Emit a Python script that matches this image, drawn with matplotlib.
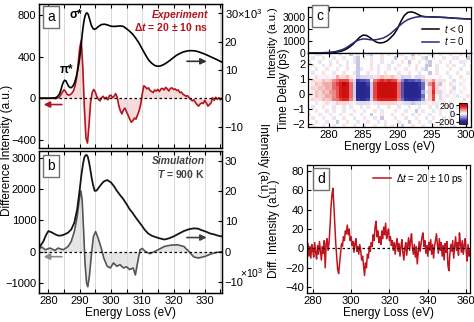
import numpy as np
import matplotlib
matplotlib.use('Agg')
import matplotlib.pyplot as plt
from matplotlib.colors import LinearSegmentedColormap

plt.rcParams['font.family'] = ['Liberation Sans', 'DejaVu Sans']
plt.rcParams['mathtext.fontset'] = 'custom'
plt.rcParams['mathtext.rm'] = 'Liberation Sans'
plt.rcParams['mathtext.it'] = 'Liberation Sans:italic'
plt.rcParams['mathtext.bf'] = 'Liberation Sans:bold'
plt.rcParams['mathtext.bfit'] = 'Liberation Sans:italic:bold'
plt.rcParams['axes.linewidth'] = 0.9

# ---- panel a: experiment (difference, left axis; intensity x1e3, right axis)
a_diff_y = [0, 2, -3, 1, 0, -2, 1, -1, 2, 0,
            -3, 1, 4, 12, 35, 60, 82, 65, 38, 30,
            35, 48, 70, 115, 190, 330, 480, 555, 300, -90,
            -380, -430, -250, -40, 55, 85, 60, 15, -10, -25,
            5, 20, -5, 10, -15, 25, 30, 5, 20, 45,
            10, -70, -120, -150, -110, -95, -130, -165, -200, -230,
            -215, -190, -200, -160, -120, -60, 40, 120, 110, 90,
            100, 75, 65, 55, 80, 70, 85, 65, 90, 95,
            80, 105, 90, 70, 95, 100, 85, 90, 75, 80,
            55, 60, 40, 30, 20, 25, 5, -10, -25, -15,
            -40, -60, -75, -55, -45, -50, -20, -45, -75, -60,
            -45, 5, -20, 10, -10, 5, -15, 0]
a_diff_x = np.linspace(277, 277 + 0.5 * (len(a_diff_y) - 1), len(a_diff_y))

a_int_x = [277, 279, 281, 282, 282.6, 283, 283.6, 284, 284.4, 284.8, 285.2, 285.6, 286, 286.4,
           286.8, 287.3, 287.8, 288.3, 288.9, 289.4, 289.9, 290.4, 290.9, 291.3, 291.7,
           292.0, 292.3, 292.7, 293.2, 293.7, 294.2, 294.6, 295.2, 296, 297, 298, 299,
           300, 301, 302, 303, 304, 305, 306, 307, 308, 309, 310, 311, 312, 313, 314,
           315, 316, 317, 318, 319, 320, 321, 322, 323, 324, 325, 326, 327, 328, 329,
           330, 331, 332, 333, 334, 335, 335.5]
a_int_y = [0.1, 0.1, 0.1, 0.2, 0.4, 0.8, 1.7, 3.0, 4.6, 5.8, 6.4, 6.2, 5.3, 4.4,
           3.9, 3.8, 4.3, 5.3, 7.5, 10.0, 13.4, 18.0, 23.4, 26.8, 28.9,
           29.8, 30.1, 29.6, 27.8, 25.8, 24.7, 24.3, 24.5, 25.3, 26.0, 26.1, 25.8,
           25.4, 25.3, 25.4, 25.5, 25.3, 24.5, 23.6, 22.5, 21.1, 19.4, 17.4, 15.4, 13.6, 12.4, 11.6,
           11.3, 11.5, 12.0, 12.7, 13.5, 14.4, 15.2, 15.8, 16.3, 16.6, 16.8, 16.8, 16.7, 16.4, 16.0,
           15.6, 15.1, 14.6, 14.1, 13.6, 13.0, 12.8]

# ---- panel b: simulation
b_int_x = [277, 278.4, 279.3, 280, 281, 282, 283.1, 284, 285.2, 286.3, 287.3, 288.3, 289.2,
           289.9, 290.6, 291.1, 291.5, 291.9, 292.2, 292.6, 293, 293.4, 293.8, 294.3, 294.8,
           295.4, 296.1, 297, 297.7, 298.8, 300, 301, 301.9, 303, 304, 305, 306, 307, 307.7,
           308.7, 309.8, 310.8, 311.9, 313, 314, 315.5, 317.1, 318.6, 320.2, 321.8, 323.3,
           324.9, 326.5, 327.8, 329, 330.4, 331.7, 333, 333.8, 335.5]
b_int_y = [1.2, 3.4, 5.6, 6.8, 6.4, 5.8, 5.3, 5.3, 5.7, 6.3, 7.3, 9.6, 14.0,
           19.6, 25.7, 29.2, 31.2, 31.9, 32.0, 31.4, 29.6, 27.2, 24.6, 22.0, 20.1,
           20.2, 21.2, 22.4, 23.2, 23.7, 22.9, 21.6, 20.1, 18.6, 17.3, 15.7, 14.0, 12.7, 11.6,
           10.2, 8.7, 7.2, 6.0, 5.3, 4.9, 4.4, 4.0, 4.4, 5.1, 6.0, 6.8,
           7.4, 7.7, 7.6, 7.1, 6.6, 6.0, 5.7, 5.4, 5.0]
b_diff_x = [277, 277.9, 279, 280.5, 282.1, 283.1, 284.7, 285.5, 286.3, 287.3, 288.3, 289.2, 290,
            290.4, 290.8, 291.3, 291.7, 292.2, 292.6, 293.1, 293.8, 294.4, 295.1, 295.9, 296.9,
            297.7, 298.8, 299.8, 300.8, 301.9, 302.9, 304, 305, 306, 307.1, 307.8, 308.5, 309.3,
            310, 311, 312.4, 314, 315.5, 317.1, 319.2, 321.2, 323.3, 324.9, 326.5, 328, 330.1,
            332.2, 333.8, 335.5]
b_diff_y = [85, 150, 63, 117, 42, 116, 63, 110, 169, 327, 643, 1117, 1749,
            1939, 1644, 590, -358, -990, -1117, -780, -43, 485, 643, 432, 116,
            -200, -464, -517, -358, -464, -411, -517, -480, -570, -517, -740, -358, 63,
            105, 10, -63, 10, 85, 169, 211, 221, 169, 10, -169, -200, -148,
            -63, -21, 0]

# ---- panel c: spectra before / at time zero
c_x = [277, 278, 279, 280, 281, 282, 282.5, 283, 283.5, 284, 284.5, 285, 285.5, 286, 286.5,
       287, 287.5, 288, 288.5, 289, 289.5, 290, 290.5, 291, 291.5, 292, 292.5, 293, 293.5,
       294, 295, 296, 297, 298, 299, 300, 300.7]
c_before = [0, 5, 10, 20, 60, 180, 300, 480, 700, 1000, 1300, 1480, 1450, 1280, 1050,
            880, 830, 870, 1000, 1250, 1550, 2000, 2600, 3100, 3350, 3400, 3330, 3180, 3050,
            3000, 2980, 2960, 2930, 2890, 2850, 2820, 2800]
c_zero = [0, 10, 25, 50, 120, 280, 420, 600, 800, 980, 1100, 1160, 1150, 1100, 1080,
          1110, 1170, 1250, 1400, 1600, 1850, 2100, 2350, 2580, 2750, 2860, 2940, 2990, 3010,
          3000, 2980, 2960, 2930, 2890, 2850, 2820, 2800]

# time-resolved map: energy profile of the signal band, its time extent, and faint background
map_energy_profile = [10, 15, 25, 30, 40, 45, 60, 90, 125, 170, 195, 185,
                      110, -40, -195, -205, -205, -180, -40, 140, 190, 198, 198, 198,
                      198, 190, 110, -140, -198, -205, -205, -198, -185, -120, -20, 40,
                      140, 30, -30, 10, 0, 5, -10, 0, 5, -5, 0, 0]
map_time_profile = [0, 0, 0, 0, 0, 0, 0.15, 0.85, 1, 1, 1, 1, 0.7, 0.15, 0, 0, 0, 0, 0, 0]
map_background = [  # top row first, '.'=0 '+'=20 '#'=45 '-'=-20 '='=-45
    "..+-..+. .-..=.+. .-=..-.+ ..-+..=. +..--.+. .-..+.-.",
    ".-..+..- ..+..-=. +.-..+.. .=..-.+. .-=.+..- ..+-..=.",
    "+..-..-. +..-.-=. ..+..-.. -..+.=.. +.-=..+. .-..-+..",
    ".+..-.+. .-.+..=. ..-.+..- ..+..-.+ ..==.-.. +.-..+.-",
    "..-..+.. +..-..=- ..+.-..+ .-..+..- .-=..+.. .+..-..+",
    ".-..+..- ..+..-=. .+..-.+. ..-..+.. -..=.+.. -..+..-.",
    "..+..-.. #..+..-. ..-..+.. +..-..+. .#..-.+. .-..+..-",
    ".+..+..+ ++..-.-. ..+..+.+ ..-.-..+ .+#.-..+ ..-..+..",
    "..+.++.+ +.+..... .+...... ........ +..#..-. .+..-..+",
    ".+.+.+.+ ........ ........ ........ ..+...+. ..-..+..",
    "..+.+.+. ........ ........ ........ .#..+..- .+..-...",
    "..+..+.. ........ ........ ........ ..+..-.. +..-..+.",
    ".+..+..+ ........ ........ ........ .+..+-.. ..+..-..",
    "..-..+.. +....... ........ ......-. ..+..-.+ .-..+..-",
    ".-..+..- ..+.-..- .+..-..+ ..-..+.. -..+.-.. +..-..+.",
    "..+..-.+ ..-..+.. -..+.-.. .+..-..= .+..-.+. .-..+..-",
    "+..-..+. .-..+..- ..=..+.. -..+..-. +..-..+. ..-..+.-",
    ".-..+..- ..+..-.. +..-.=.. .+..-..+ ..-.+..- .+..-..+",
    "..+..-.. =..+..-. .+..-.+. ..-..=.. +..-..+. .-..+..-",
    ".-..+..- ..+..-.. -..+..-. +..=..+. .-..+.-. ..+..-..",
]

# ---- panel d: difference at 20 ps
d_y = [-3, 5, -8, 2, -10, 4, -2, -9, 6, -4,
       -11, 3, -6, 7, -3, -12, 2, -5, 8, -20,
       5, 10, -2, 6, 22, 42, 55, 62, 45, 25,
       5, -8, -22, -26, -15, -5, 5, 2, 12, 8,
       18, 15, 24, 14, 20, 8, 12, 3, 7, -4,
       5, 10, -3, 2, -6, 4, -2, -12, -8, -18,
       -28, -15, -20, -6, -10, 2, -3, 6, 2, 14,
       8, 22, 28, 12, 18, 6, 12, 4, 18, 10,
       22, 14, 26, 10, 16, 20, 8, 12, 3, 8,
       -2, 6, -6, 4, 10, -3, 5, -8, 2, 9,
       -4, -12, 0, 6, -7, 3, 11, -2, 8, 15,
       0, -6, 4, -9, 2, -16, -4, 7, -3, 5,
       12, 16, 2, 8, -5, 3, -8, 6, -2, 9,
       -6, 4, -10, 2, 8, 15, 4, -5, 10, -2,
       6, -8, 3, -12, 5, -4, 7, -18, -23, -6,
       4, -3, 8, -10, 2, 12, -2, 6, -7, 16,
       5, -4, 8, -6, 3, 10, -3, -13, 4, -8, -2]
d_x = np.linspace(277, 277 + 0.5 * (len(d_y) - 1), len(d_y))

RED = '#b3141e'
W, H = 474, 322
fig = plt.figure(figsize=(W / 100, H / 100), dpi=100)


def box(l, t, r, b):
    return fig.add_axes([l / W, 1 - b / H, (r - l) / W, (b - t) / H])


def style(ax, top=True):
    ax.tick_params(direction='in', length=3, width=0.8, labelsize=8, top=top, pad=2)


def letter(ax, x, y, s):
    ax.text(x, y, s, transform=ax.transAxes, ha='center', va='center', fontsize=10, zorder=10,
            bbox=dict(boxstyle='square,pad=0.3', fc='white', ec='#707070', lw=1))


ab_ticks = np.arange(280, 336, 5)

# panel a
ax_a = box(39, 4, 222, 148)
ax_a.fill_between(a_diff_x, a_diff_y, 0, color='#f7dada', lw=0)
ax_a.plot(a_diff_x, a_diff_y, color=RED, lw=1.2)
ax_a.axhline(0, color='k', ls=(0, (2, 2)), lw=0.9)
ax_a.set_xlim(277, 335.5)
ax_a.set_ylim(-477, 905)
ax_a.set_xticks(ab_ticks)
ax_a.set_xticklabels([])
ax_a.set_yticks([-400, 0, 400, 800])
ax_a.set_yticklabels(['\u2212400', '0', '400', '800'])
ax_a.grid(axis='x', color='#d8d8d8', lw=0.7)
style(ax_a)
ax_a2 = ax_a.twinx()
ax_a2.plot(a_int_x, a_int_y, color='k', lw=1.2)
ax_a2.set_ylim(-17.4, 33.2)
ax_a2.set_yticks([-10, 0, 10, 20, 30])
ax_a2.set_yticklabels(['\u221210', '0', '10', '20', '30\u00d710$^3$'])
style(ax_a2)
ax_a.annotate('', xy=(331.5, 355), xytext=(323.4, 355),
              arrowprops=dict(arrowstyle='-|>', color='#303030', lw=1.2, mutation_scale=9))
ax_a.annotate('', xy=(277.6, -60), xytext=(285.2, -60),
              arrowprops=dict(arrowstyle='-|>', color=RED, lw=1.2, mutation_scale=9))
ax_a.text(285.9, 210, '\u03c0*', ha='center', va='bottom', fontsize=8.5, fontweight='bold')
ax_a.text(288.9, 740, '\u03c3*', ha='center', va='bottom', fontsize=8.5, fontweight='bold')
ax_a.text(0.923, 0.925, 'Experiment', transform=ax_a.transAxes, ha='right', va='center',
          color=RED, fontsize=7.5, fontweight='bold', fontstyle='italic')
ax_a.text(0.923, 0.84, '\u0394$\\mathbfit{t}$ = 20 \u00b1 10 ns', transform=ax_a.transAxes,
          ha='right', va='center', color=RED, fontsize=7.5, fontweight='bold')
letter(ax_a, 0.066, 0.91, 'a')

# panel b
ax_b = box(39, 151, 222, 293)
ax_b.fill_between(b_diff_x, b_diff_y, 0, color='#e6e6e6', lw=0)
ax_b.plot(b_diff_x, b_diff_y, color='#555555', lw=1.2)
ax_b.axhline(0, color='k', ls=(0, (2, 2)), lw=0.9)
ax_b.set_xlim(277, 335.5)
ax_b.set_ylim(-1315, 3210)
ax_b.set_xticks(ab_ticks)
ax_b.set_xticklabels([str(v) if v % 10 == 0 else '' for v in ab_ticks])
ax_b.set_yticks([-1000, 0, 1000, 2000, 3000])
ax_b.set_yticklabels(['\u22121000', '0', '1000', '2000', '3000'])
ax_b.grid(axis='x', color='#d8d8d8', lw=0.7)
ax_b.set_xlabel('Energy Loss (eV)', fontsize=8.5, labelpad=1)
style(ax_b)
ax_b2 = ax_b.twinx()
ax_b2.plot(b_int_x, b_int_y, color='#151515', lw=1.3)
ax_b2.set_ylim(-13.7, 33.3)
ax_b2.set_yticks([-10, 0, 10, 20, 30])
ax_b2.set_yticklabels(['\u221210', '0', '10', '20', '30'])
style(ax_b2)
ax_b.annotate('', xy=(331.5, 452), xytext=(323.4, 452),
              arrowprops=dict(arrowstyle='-|>', color='#404040', lw=1.2, mutation_scale=9))
ax_b.annotate('', xy=(277.6, -158), xytext=(285.2, -158),
              arrowprops=dict(arrowstyle='-|>', color='#8a8a8a', lw=1.2, mutation_scale=9))
ax_b.text(0.907, 0.93, 'Simulation', transform=ax_b.transAxes, ha='right', va='center',
          color='#404040', fontsize=7.5, fontweight='bold', fontstyle='italic')
ax_b.text(0.907, 0.838, '$\\mathbfit{T}$ = 900 K', transform=ax_b.transAxes, ha='right',
          va='center', color='#404040', fontsize=7.5, fontweight='bold')
letter(ax_b, 0.066, 0.894, 'b')

fig.text(7 / W, 1 - 150 / H, 'Difference Intensity (a.u.)', rotation=90, ha='center',
         va='center', fontsize=8.5)
fig.text(263 / W, 1 - 160 / H, 'Intensity (a.u.)', rotation=270, ha='center', va='center',
         fontsize=8.5)
fig.text(240 / W, 1 - 273 / H, '\u00d710$^3$', ha='left', va='center', fontsize=7.5)

# panel c, spectra
ax_ct = box(308, 7, 471, 53)
ax_ct.plot(c_x, c_before, color='k', lw=1.1, label='$t$ < 0')
ax_ct.plot(c_x, c_zero, color='#2a2a7a', lw=1.1, label='$t$ = 0')
ax_ct.set_xlim(277, 300.7)
ax_ct.set_ylim(0, 3800)
ax_ct.set_xticks([280, 285, 290, 295, 300])
ax_ct.set_xticklabels([])
ax_ct.set_yticks([0, 1000, 2000, 3000])
style(ax_ct)
ax_ct.tick_params(labelsize=7.5)
fig.text(273 / W, 1 - 43 / H, 'Intensity (a.u.)', rotation=90, ha='center', va='center',
         fontsize=8)
ax_ct.legend(loc='lower right', frameon=False, fontsize=7, handlelength=1.8,
             borderaxespad=0.2, labelspacing=0.05, handletextpad=0.5)
letter(ax_ct, 0.074, 0.8, 'c')

# panel c, map
cmap = LinearSegmentedColormap.from_list('bwr_dark', [
    (0.0, (0.12, 0.12, 0.45)), (0.15, (0.17, 0.17, 0.62)), (0.5, (1, 1, 1)),
    (0.85, (0.86, 0.08, 0.08)), (1.0, (0.65, 0.0, 0.0))])
code = {'.': 0, '+': 20, '#': 45, '-': -20, '=': -45}
bg = np.array([[code[ch] for ch in row.replace(' ', '').ljust(48, '.')[:48]]
               for row in map_background[::-1]], dtype=float)
Z = np.outer(map_time_profile, map_energy_profile) + bg
e_edges = np.arange(277, 301.01, 0.5)
t_edges = np.arange(-2.25, 2.76, 0.25)
ax_ch = box(308, 53, 471, 127)
mesh = ax_ch.pcolormesh(e_edges, t_edges, Z, cmap=cmap, vmin=-250, vmax=250)
ax_ch.set_xlim(277, 300.7)
ax_ch.set_ylim(-2.2, 2.7)
ax_ch.set_xticks([280, 285, 290, 295, 300])
ax_ch.set_yticks([-2, -1, 0, 1, 2])
ax_ch.set_yticklabels(['\u22122', '\u22121', '0', '1', '2'])
style(ax_ch)
ax_ch.set_xlabel('Energy Loss (eV)', fontsize=8.5, labelpad=1)
ax_ch.set_ylabel('Time Delay (ps)', fontsize=8.5, labelpad=2)
cax = box(459, 103, 467, 124)
cb = fig.colorbar(mesh, cax=cax, ticks=[-200, 0, 200])
cax.yaxis.set_ticks_position('left')
cax.set_yticklabels(['\u2212200', '0', '200'])
cax.tick_params(labelsize=6.5, length=2, pad=1)
cb.outline.set_linewidth(0.6)

# panel d
ax_d = box(307, 165, 470, 293)
ax_d.plot(d_x, d_y, color='#c0141e', lw=1.1, label='\u0394$t$ = 20 \u00b1 10 ps')
ax_d.axhline(0, color='k', ls=(0, (2, 2)), lw=0.9)
ax_d.set_xlim(277, 362)
ax_d.set_ylim(-46, 86)
ax_d.set_xticks([280, 300, 320, 340, 360])
ax_d.set_yticks([-40, -20, 0, 20, 40, 60, 80])
ax_d.set_yticklabels(['\u221240', '\u221220', '0', '20', '40', '60', '80'])
ax_d.grid(axis='x', color='#d0d0d0', lw=0.7)
style(ax_d)
ax_d.set_xlabel('Energy Loss (eV)', fontsize=8.5, labelpad=1)
ax_d.set_ylabel('Diff. Intensity (a.u.)', fontsize=8.5, labelpad=4)
ax_d.legend(loc='upper right', frameon=False, fontsize=7, handlelength=1.8,
            borderaxespad=0.3, handletextpad=0.5)
letter(ax_d, 0.086, 0.89, 'd')

fig.savefig('out.png', dpi=100)
